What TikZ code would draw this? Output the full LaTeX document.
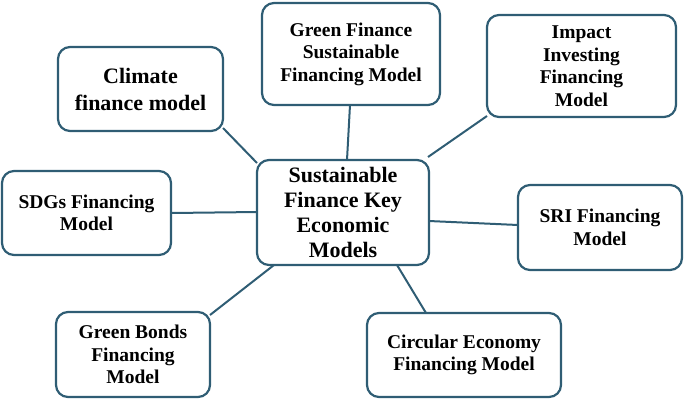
\documentclass[tikz,border=0pt]{standalone}
\usepackage{fontspec}
\setmainfont{Liberation Serif}
\begin{document}
\begin{tikzpicture}[x=1pt,y=-1pt,
 box/.style={draw=boxc,line width=2.2pt,rounded corners=12pt,fill=white,align=center,font=\bfseries\fontsize{19.5}{22.5}\selectfont,inner sep=2pt},
 link/.style={draw=boxc,line width=2pt}]
\definecolor{boxc}{HTML}{2F5D74}
\useasboundingbox (0,0) rectangle (685,400);
\coordinate (a1) at (257,163); \coordinate (a2) at (347,160); \coordinate (a3) at (428,157);
\coordinate (a4) at (257,212); \coordinate (a5) at (429,221); \coordinate (a6) at (274,265); \coordinate (a7) at (397,265);
\coordinate (b1) at (223,128); \coordinate (b2) at (350,105); \coordinate (b3) at (487,116);
\coordinate (b4) at (171,213); \coordinate (b5) at (518,225); \coordinate (b6) at (210,315); \coordinate (b7) at (426,313);
\draw[link] (a1) -- (b1); \draw[link] (a2) -- (b2); \draw[link] (a3) -- (b3);
\draw[link] (a4) -- (b4); \draw[link] (a5) -- (b5); \draw[link] (a6) -- (b6); \draw[link] (a7) -- (b7);
\node[box,minimum width=172pt,minimum height=105pt,font=\bfseries\fontsize{22}{25}\selectfont] (c) at (343,212.5) {Sustainable\\Finance Key\\Economic\\Models};
\node[box,minimum width=165pt,minimum height=84pt,font=\bfseries\fontsize{22}{27}\selectfont] (cl) at (140.5,89) {Climate\\finance model};
\node[box,minimum width=178pt,minimum height=102pt] (gf) at (351,54) {Green Finance\\Sustainable\\Financing Model};
\node[box,minimum width=189pt,minimum height=102pt] (im) at (581.5,66) {Impact\\Investing\\Financing\\Model};
\node[box,minimum width=169pt,minimum height=84pt] (sd) at (86.5,213) {SDGs Financing\\Model};
\node[box,minimum width=164pt,minimum height=85pt] (sr) at (600,227.5) {SRI Financing\\Model};
\node[box,minimum width=154pt,minimum height=85pt] (gb) at (133,354.5) {Green Bonds\\Financing\\Model};
\node[box,minimum width=194pt,minimum height=84pt] (ce) at (464,355) {Circular Economy\\Financing Model};
\end{tikzpicture}
\end{document}
